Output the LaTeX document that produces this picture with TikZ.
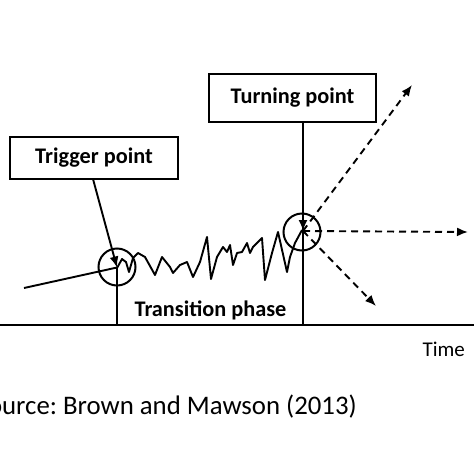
\documentclass[tikz,border=0pt]{standalone}
\usepackage{fontspec}
\setmainfont{Carlito}
\usetikzlibrary{arrows.meta}
\frenchspacing
\begin{document}
\begin{tikzpicture}[x=1pt,y=-1pt,
  ln/.style={line width=1.9pt},
  labelbox/.style={draw, line width=1.6pt, inner sep=0pt, font=\fontsize{22.3}{26}\selectfont\bfseries},
  ring/.style={draw, circle, line width=2pt, minimum size=37pt, inner sep=0pt},
  tip/.style={-{Latex[length=11pt,width=9pt]}},
  dtip/.style={ln, dash pattern=on 7pt off 5pt, -{Latex[length=11pt,width=9pt]}},
  txt/.style={font=\fontsize{21}{25}\selectfont, inner sep=0pt}]
\useasboundingbox (0,0) rectangle (474,474);
% axis
\coordinate (ax0) at (0,325);
\coordinate (ax1) at (474,325);
\draw[line width=2.1pt] (ax0) -- (ax1);
% boxes
\node[labelbox, minimum width=168pt, minimum height=42pt] (trig) at (94,158) {Trigger point};
\node[labelbox, minimum width=167pt, minimum height=48pt] (turn) at (292.5,98) {Turning point};
% circles
\node[ring] (c1) at (117,267) {};
\node[ring] (c2) at (302,232) {};
\coordinate (t1) at (117,267.5);
\coordinate (t2) at (303,231);
\coordinate (b1) at (117,325);
\coordinate (b2) at (303,325);
\coordinate (s0) at (24,288);
\coordinate (tf) at (93,179);
\coordinate (tb) at (303,122);
% lines
\draw[ln] (s0) -- (t1);
\draw[ln] (t1) -- (b1);
\draw[ln] (tb) -- (b2);
\draw[ln, tip] (tf) -- (t1);
\draw[ln, tip] (tb) -- (t2);
% wiggle
\draw[ln, line join=round] plot coordinates {(117,268) (122,259) (126,262) (129,272) (133,258) (138,253) (145,257) (155,275) (162,257) (170,267) (173,273) (180,265) (187,262) (193,277) (200,262) (207,237) (211,279) (217,257) (223,247) (227,252) (230,245) (233,265) (237,253) (242,252) (247,243) (250,253) (253,247) (258,242) (262,238) (265,280) (272,253) (278,232) (287,272) (290,257) (295,243) (302,230)};
% dashed arrows
\coordinate (d1) at (412,85);
\coordinate (d2) at (468,232);
\coordinate (d3) at (376,306);
\draw[dtip] (t2) -- (d1);
\draw[dtip] (t2) -- (d2);
\draw[dtip] (t2) -- (d3);
% texts
\node[txt, font=\fontsize{22.3}{26}\selectfont\bfseries] (ph) at (210.5,310) {Transition phase};
\node[txt, anchor=base east] (time) at (465,356) {Time};
\node[txt, anchor=base east, font=\fontsize{26.8}{30}\selectfont] (src) at (357,414) {Source: Brown and Mawson (2013)};
\end{tikzpicture}
\end{document}
